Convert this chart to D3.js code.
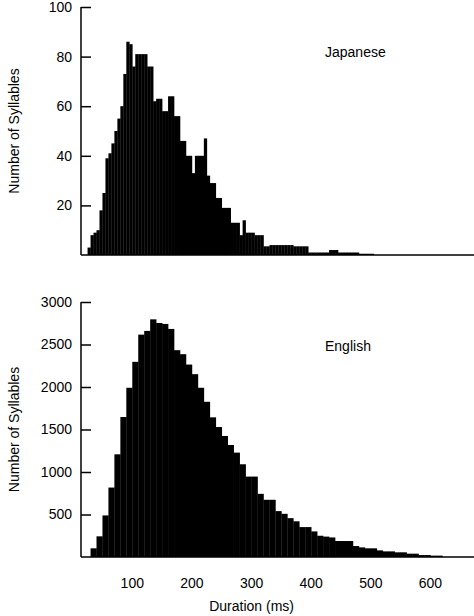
<!DOCTYPE html>
<html>
<head>
<meta charset="utf-8">
<script src="https://cdn.jsdelivr.net/npm/d3@7"></script>
<style>
  body { margin: 0; background: #fff; }
  svg text { font-family: "Liberation Sans", Arial, sans-serif; fill: #000; }
</style>
</head>
<body>
<svg id="chart" width="474" height="616"></svg>
<script>
// Japanese: 5 ms bins starting at 25 ms
var jpStart = 25, jpBin = 5;
var jpCounts = [3, 8, 9, 10, 18, 25, 39, 41, 45, 50, 55, 60, 73, 86, 85, 76, 81, 81, 81, 81,
  76, 76, 62, 63, 63, 58, 58, 64, 64, 56, 56, 46, 46, 40, 40, 33, 40, 40, 40, 47,
  32, 29, 29, 23, 23, 19, 19, 19, 13, 13, 13, 8, 14, 9, 9, 9, 8, 8, 8, 3.5,
  3.5, 4, 4, 4, 4, 4, 4, 4, 4, 3.5, 3.5, 3.5, 3.5, 3.5, 1, 1, 1, 1, 1, 1,
  1, 2, 2, 2, 1, 1, 1, 1, 1, 1, 1, 0.5, 0.5, 0.5, 0.5, 0.5];

// English: 10 ms bins starting at 30 ms
var enStart = 30, enBin = 10;
var enCounts = [102, 243, 489, 817, 1208, 1647, 1991, 2296, 2616, 2660,
  2796, 2753, 2742, 2683, 2433, 2386, 2264, 2151, 1991, 1826,
  1643, 1529, 1424, 1318, 1228, 1091, 946, 946, 743, 673,
  673, 540, 508, 457, 420, 352, 352, 301, 250, 240,
  230, 188, 188, 188, 129, 113, 102, 102, 78, 66,
  66, 55, 55, 39, 39, 23, 23, 16, 16];

var jpTicks = [20, 40, 60, 80, 100];
var enTicks = [500, 1000, 1500, 2000, 2500, 3000];
var xTicks = [100, 200, 300, 400, 500, 600];

var svg = d3.select("#chart");

var x = d3.scaleLinear().domain([14, 673]).range([81, 474]);

function toBins(counts, start, bin) {
  return counts.map(function(c, i) { return { x0: start + i * bin, x1: start + (i + 1) * bin, n: c }; });
}

function panel(data, yDomain, yRange, ticks, name, labelY) {
  var y = d3.scaleLinear().domain(yDomain).range(yRange);

  svg.append("g").selectAll("rect")
    .data(data)
    .enter().append("rect")
    .attr("x", function(d) { return x(d.x0); })
    .attr("width", function(d) { return x(d.x1) - x(d.x0) + 0.3; })
    .attr("y", function(d) { return y(d.n); })
    .attr("height", function(d) { return y(0) - y(d.n); })
    .attr("fill", "#000");

  var ax = svg.append("g")
    .attr("transform", "translate(" + x.range()[0] + ",0)")
    .call(d3.axisRight(y).tickValues(ticks).tickSize(10).tickFormat(""));
  ax.select(".domain").remove();
  ax.selectAll("line").attr("stroke-width", 1.5);

  svg.append("line")
    .attr("x1", x.range()[0]).attr("x2", x.range()[0])
    .attr("y1", y(yDomain[1])).attr("y2", y(0))
    .attr("stroke", "#000").attr("stroke-width", 1.5);
  svg.append("line")
    .attr("x1", x.range()[0]).attr("x2", 474)
    .attr("y1", y(0)).attr("y2", y(0))
    .attr("stroke", "#000").attr("stroke-width", 1.5);

  svg.append("g").selectAll("text")
    .data(ticks)
    .enter().append("text")
    .attr("x", 72)
    .attr("y", function(d) { return y(d); })
    .attr("dy", "0.35em")
    .attr("text-anchor", "end")
    .attr("font-size", 14)
    .text(function(d) { return d; });

  svg.append("text")
    .attr("transform", "translate(14," + (yRange[0] + yRange[1]) / 2 + ") rotate(-90)")
    .attr("dy", "0.35em")
    .attr("text-anchor", "middle")
    .attr("font-size", 14)
    .text("Number of Syllables");

  svg.append("text")
    .attr("x", 325).attr("y", labelY)
    .attr("font-size", 14)
    .text(name);
}

panel(toBins(jpCounts, jpStart, jpBin), [0, 100], [255, 7], jpTicks, "Japanese", 57);
panel(toBins(enCounts, enStart, enBin), [0, 3000], [557, 302], enTicks, "English", 351);

// x tick labels on the bottom panel
svg.append("g").selectAll("text")
  .data(xTicks)
  .enter().append("text")
  .attr("x", function(d) { return x(d); })
  .attr("y", 588)
  .attr("text-anchor", "middle")
  .attr("font-size", 14)
  .text(function(d) { return d; });

svg.append("text")
  .attr("x", x(300)).attr("y", 611)
  .attr("text-anchor", "middle")
  .attr("font-size", 14)
  .text("Duration (ms)");
</script>
</body>
</html>
